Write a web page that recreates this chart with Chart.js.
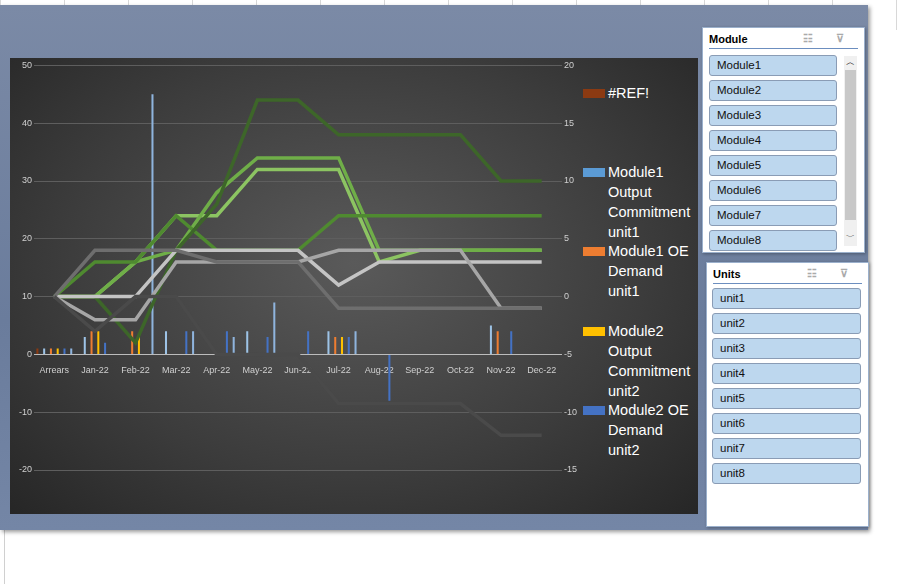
<!DOCTYPE html>
<html><head><meta charset="utf-8">
<script src="https://cdn.jsdelivr.net/npm/chart.js@4"></script>
<style>
body{margin:0;width:906px;height:584px;overflow:hidden;background:#fff;font-family:"Liberation Sans",Arial,sans-serif;position:relative}
.grid{position:absolute;left:0;top:0;width:906px;height:30px;background-image:linear-gradient(90deg,#d8d8d8 1px,transparent 1px);background-size:64px 20px;}
#frame{position:absolute;left:0;top:5px;width:868px;height:525px;background:linear-gradient(180deg,#7b8aa6,#6a7c9c 60%,#7486a6);box-shadow:2px 2px 4px rgba(0,0,0,.4)}
#plot{position:absolute;left:10px;top:58px;width:688px;height:456px;background:radial-gradient(ellipse at 50% 45%,#5a5a5a 0%,#3c3c3c 60%,#262626 100%)}
#cwrap{position:absolute;left:0;top:0;width:572px;height:456px}
#legend{position:absolute;left:573px;top:0;width:115px;height:456px;color:#fff;font-size:14.5px;line-height:20px}
.li{position:absolute;left:0;display:flex}
.sw{width:22px;height:9px;margin-top:6px;margin-right:3px;flex:none}
.slicer{position:absolute;background:#fff;border:1px solid #9bb0cc;box-shadow:1px 1px 3px rgba(0,0,0,.3)}
.sh{font-weight:bold;font-size:11px;padding:5px 7px 3px;border-bottom:1px solid #6c8ebf;margin:0 6px 0 6px;padding-left:0;height:12px;position:relative}
.icons{position:absolute;right:4px;top:4px;color:#aaa;font-size:11px;letter-spacing:10px}
.item{position:absolute;background:#bdd7ee;border:1px solid #8a9cb5;border-radius:3px;font-size:11.5px;color:#111;padding-left:7px;line-height:19px;box-sizing:border-box;height:21px}
</style></head><body>
<div class="grid"></div>
<div style="position:absolute;left:4px;top:530px;width:1px;height:54px;background:#d0d0d0"></div>
<div id="frame"></div>
<div id="plot"><div id="cwrap"><canvas id="c"></canvas></div><div id="legend"></div></div>
<div class="slicer" style="left:702px;top:27px;width:161px;height:224px">
 <div class="sh">Module<span class="icons">☷ ⊽</span></div>
 <div id="mod"></div>
 <div style="position:absolute;left:141px;top:28px;width:13px;height:190px;background:#f0f0f0"><div style="position:absolute;top:14px;left:1px;width:11px;height:150px;background:#c8c8c8"></div><div style="position:absolute;top:0;left:2px;font-size:9px">︿</div><div style="position:absolute;bottom:2px;left:2px;font-size:9px">﹀</div></div>
</div>
<div class="slicer" style="left:706px;top:262px;width:161px;height:263px">
 <div class="sh">Units<span class="icons">☷ ⊽</span></div>
 <div id="uni"></div>
</div>
<script>
const categories=["Arrears","Jan-22","Feb-22","Mar-22","Apr-22","May-22","Jun-22","Jul-22","Aug-22","Sep-22","Oct-22","Nov-22","Dec-22"];
const leftTicks=[50,40,30,20,10,0,-10,-20];
const modules=["Module1","Module2","Module3","Module4","Module5","Module6","Module7","Module8"];
const units=["unit1","unit2","unit3","unit4","unit5","unit6","unit7","unit8"];
// line series (left-axis values)
const lineG1=[10,10,2,18,26,44,44,38,38,38,38,30,30];
const lineG2=[10,16,16,24,18,18,18,24,24,24,24,24,24];
const lineG3=[10,10,16,18,28,34,34,34,18,18,18,18,18];
const lineG4=[10,10,16,24,24,32,32,32,16,18,18,18,18];
const lineA1=[10,18,18,18,16,16,16,8,8,8,8,8,8];
const lineA2=[10,10,10,18,18,18,18,12,16,16,16,16,16];
const lineA3=[10,6,6,16,16,16,16,18,18,18,18,8,8];
const lineA4=[10,4,10,10,0,0,0,-8.5,-8.5,-8.5,-8.5,-14,-14];
// bar series
const barRef=[1,0,0,0,0,0,0,0,0,0,0,0,0];
const barM1Out=[1,3,0,4,0,4,0,4,0,0,0,5,0];
const barM1OE=[1,4,4,0,0,0,0,3,0,0,0,4,0];
const barM2Out=[1,4,3,0,0,0,0,3,0,0,0,0,0];
const barM2OE=[1,2,0,4,4,3,4,3,-8,0,0,4,0];
const barX1=[1,0,45,4,3,9,0,4,0,0,0,0,0];
const legendItems=[["#REF!","#8b3a12",25],["Module1 Output Commitment unit1","#5b9bd5",104],["Module1 OE Demand unit1","#ed7d31",183],["Module2 Output Commitment unit2","#ffc000",263],["Module2 OE Demand unit2","#4472c4",342]];
const lg=document.getElementById('legend');
legendItems.forEach(([t,c,y])=>{lg.insertAdjacentHTML('beforeend',`<div class="li" style="top:${y}px"><div class="sw" style="background:${c}"></div><div style="width:90px">${t}</div></div>`)});
modules.forEach((m,i)=>document.getElementById('mod').insertAdjacentHTML('beforeend',`<div class="item" style="left:6px;top:${27+i*25}px;width:128px">${m}</div>`));
units.forEach((m,i)=>document.getElementById('uni').insertAdjacentHTML('beforeend',`<div class="item" style="left:5px;top:${25+i*25}px;width:149px">${m}</div>`));
const L=(d,c)=>({type:'line',data:d,borderColor:c,borderWidth:3.5,pointRadius:0,tension:0,yAxisID:'y',order:1});
const B=(d,c)=>({type:'bar',data:d,backgroundColor:c,yAxisID:'y',order:2,barPercentage:0.3,categoryPercentage:1});
new Chart(document.getElementById('c'),{
 data:{labels:categories,datasets:[
  L(lineA4,'#4a4a4a'),L(lineA1,'#6e6e6e'),L(lineA3,'#a6a6a6'),L(lineA2,'#c4c4c4'),
  L(lineG1,'#3d6629'),L(lineG2,'#4f8a30'),L(lineG3,'#6fae48'),L(lineG4,'#8cc462'),
  B(barRef,'#8b3a12'),B(barM1Out,'#9dc3e6'),B(barM1OE,'#ed7d31'),B(barM2Out,'#ffc000'),B(barM2OE,'#4472c4'),B(barX1,'#8fb4dd')]},
 options:{responsive:true,maintainAspectRatio:false,animation:false,
  layout:{padding:{top:6,right:3,left:7,bottom:44}},
  plugins:{legend:{display:false},tooltip:{enabled:false}},
  scales:{
   x:{position:{y:0},grid:{display:false},border:{display:false},ticks:{color:'#d0d0d0',font:{size:9},maxRotation:0,autoSkip:false}},
   y:{min:-20,max:50,afterBuildTicks:a=>{a.ticks=leftTicks.map(v=>({value:v}))},grid:{color:c=>c.tick&&c.tick.value===0?'#bcbcbc':'#5e5e5e',lineWidth:1,drawTicks:false},border:{display:false},ticks:{color:'#d0d0d0',font:{size:9},padding:2}},
   y2:{position:'right',min:-15,max:20,ticks:{stepSize:5,color:'#d0d0d0',font:{size:9},padding:2},grid:{display:false,drawTicks:false},border:{display:false}}
  }}
});
</script></body></html>
